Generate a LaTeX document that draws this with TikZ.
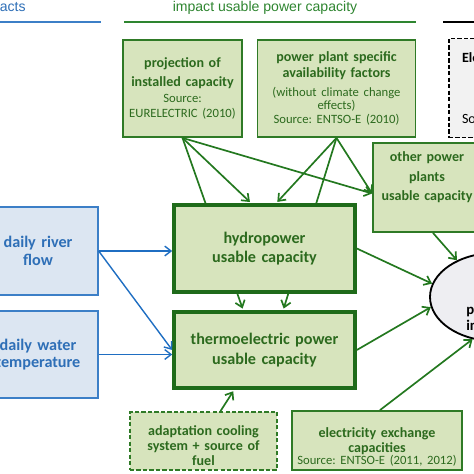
\documentclass[tikz,border=0pt]{standalone}
\usepackage{fontspec}
\setmainfont{Carlito}
\newfontfamily\hdrfont{Liberation Sans}
\usepackage{xcolor}
\usetikzlibrary{arrows.meta,shapes.geometric,backgrounds}
\frenchspacing
\definecolor{gnLine}{HTML}{2F7A26}
\definecolor{gnHeavy}{HTML}{1F6B1A}
\definecolor{gnFill}{HTML}{D7E4BD}
\definecolor{gnText}{HTML}{2C6A1E}
\definecolor{gnArrow}{HTML}{23781F}
\definecolor{gnHdr}{HTML}{2E8530}
\definecolor{blLine}{HTML}{3C7FC7}
\definecolor{blFill}{HTML}{DCE6F2}
\definecolor{blText}{HTML}{2E6FB7}
\definecolor{blArrow}{HTML}{1F6EC2}
\definecolor{kFill}{HTML}{F2F2F2}
\definecolor{elFill}{HTML}{EEEEF2}
\def\pxu{0.025cm}
\newcommand{\srcf}{\fontsize{9}{11}\selectfont}
% struts to move a text block down (top) or up (bottom) in its box
\newcommand{\topgap}[1]{\rule{0pt}{#1}}
\newcommand{\botgap}[1]{\rule[-#1]{0pt}{0pt}}
\tikzset{
  % Green input box
  gbox/.style={rectangle,draw=gnLine,fill=gnFill,line width=1.3pt,
    align=center,text=gnText,inner sep=0pt,
    font=\fontsize{10}{11}\selectfont},
  % Heavy green capacity box
  hbox/.style={gbox,draw=gnHeavy,line width=2.6pt,
    font=\bfseries\fontsize{11.5}{14}\selectfont},
  % Dashed green option box
  dgbox/.style={gbox,dash pattern=on 3pt off 1.6pt},
  % Blue climate box
  bbox/.style={rectangle,draw=blLine,fill=blFill,line width=1pt,
    align=center,text=blText,inner sep=0pt,
    font=\bfseries\fontsize{11.5}{12.5}\selectfont},
  % Black dashed box
  kbox/.style={rectangle,draw=black,fill=kFill,line width=1.3pt,
    dash pattern=on 3pt off 1.6pt,align=left,inner sep=0pt,
    font=\fontsize{10}{11}\selectfont},
  % Headers
  hdr/.style={font=\hdrfont\fontsize{10}{12}\selectfont,inner sep=0pt},
  % Arrows
  garr/.style={-{Straight Barb[length=4.5pt,width=7pt]},line width=1.2pt,draw=gnArrow},
  barr/.style={-{Straight Barb[length=4.5pt,width=7pt]},line width=1pt,draw=blArrow},
  hin/.style={shorten >=1.2pt},
}
\begin{document}
\begin{tikzpicture}[x=\pxu,y=-\pxu]
  \useasboundingbox (0,0) rectangle (474,474);
  \clip (0,0) rectangle (474,474);

  %% --- HEADERS ---
  \node[hdr,text=blText,anchor=east] (hdrclim) at (26,8) {climate change impacts};
  \node[hdr,text=gnHdr] (hdrcap) at (265,8) {impact usable power capacity};
  \draw[blLine,line width=1.2pt] (-5,22) -- (101,22);
  \draw[gnHdr,line width=1.2pt] (124,22) -- (416,22);
  \draw[black,line width=1.2pt] (443,22) -- (480,22);

  %% --- INPUT BOXES ---
  \node[gbox,minimum width=119*\pxu,minimum height=97*\pxu,text width=115*\pxu] (proj) at (182.5,88.5)
    {\textbf{projection of}\\[2.5pt]\textbf{installed capacity}\\[0.5pt]{\srcf Source:\\EURELECTRIC (2010)}};
  \node[gbox,minimum width=158*\pxu,minimum height=97*\pxu,text width=154*\pxu] (avail) at (336.5,88.5)
    {\textbf{power plant specific}\\\textbf{availability factors}\\[2.5pt]{\srcf (without climate change\\[-1.5pt]effects)\\[-1.5pt]Source: ENTSO-E (2010)}};
  \node[kbox,minimum width=112*\pxu,minimum height=99*\pxu,text width=86*\pxu] (demand) at (505,88)
    {\mbox{\textbf{Electricity demand}}\\[32pt]\mbox{Source:}};
  \node[gbox,minimum width=108*\pxu,minimum height=89*\pxu,text width=104*\pxu,
    font=\bfseries\fontsize{10}{14}\selectfont] (other) at (427,187.5)
    {other power\\plants\\usable capacity\botgap{16pt}};

  %% --- CLIMATE BOXES ---
  \node[bbox,minimum width=120*\pxu,minimum height=88*\pxu,text width=116*\pxu] (river) at (38,251)
    {daily river\\flow};
  \node[bbox,minimum width=120*\pxu,minimum height=87*\pxu,text width=116*\pxu] (temp) at (38,354.5)
    {daily water\\temperature};

  %% --- CAPACITY BOXES ---
  \node[hbox,minimum width=181*\pxu,minimum height=87*\pxu,text width=175*\pxu] (hydro) at (264.5,248.5)
    {hydropower\\usable capacity};
  \node[hbox,minimum width=181*\pxu,minimum height=76*\pxu,text width=175*\pxu] (thermo) at (264.5,350)
    {thermoelectric power\\usable capacity};

  %% --- BOTTOM BOXES ---
  \node[dgbox,minimum width=147*\pxu,minimum height=58*\pxu,text width=143*\pxu,
    font=\bfseries\fontsize{10}{10.6}\selectfont] (adapt) at (203.5,441)
    {\topgap{14pt}adaptation cooling\\system + source of\\fuel};
  \node[gbox,minimum width=170*\pxu,minimum height=59*\pxu,text width=166*\pxu] (exch) at (377,440.5)
    {\topgap{16pt}\textbf{electricity exchange}\\\textbf{capacities}\\[-3pt]{\srcf Source: ENTSO-E (2011, 2012)}};

  %% --- MARKET MODEL ---
  \node[ellipse,draw=black,fill=elFill,line width=1.3pt,minimum width=130*\pxu,minimum height=88*\pxu] (elli) at (495,297) {};
  \node[anchor=west,align=left,inner sep=0pt,font=\bfseries\fontsize{10.5}{12}\selectfont] (ellitext) at (466,318.5)
    {power market\\impacts};

  % Climate inputs
  \draw[barr] (river.east) -- (river.east -| hydro.west);
  \draw[barr] (river.east) -- (thermo.west);
  \draw[barr] (temp.east) -- (temp.east -| thermo.west);

  % Inputs to capacities
  \draw[garr,hin] (proj.south) -- ([xshift=79*\pxu]hydro.north west);
  \draw[garr] (proj.south) -- ([yshift=-6*\pxu]other.west);
  \draw[garr,hin] (avail.south) -- ([xshift=104*\pxu]hydro.north west);
  \draw[garr] (avail.south) -- ([yshift=-6*\pxu]other.west);
  \begin{scope}[on background layer]
    \draw[garr,hin] (proj.south) -- ([xshift=71*\pxu]thermo.north west);
    \draw[garr,hin] (avail.south) -- ([xshift=111*\pxu]thermo.north west);
  \end{scope}
  \draw[garr,hin] ([xshift=17*\pxu]adapt.north) -- ([xshift=62*\pxu]thermo.south west);

  % Capacities to the market model
  \draw[garr] ([xshift=6*\pxu]other.south) -- (elli.136);
  \draw[garr] (hydro.east) -- (elli.168);
  \draw[garr] (thermo.east) -- (elli.189);
  \draw[garr] ([xshift=3*\pxu]exch.north) -- (elli.242);
\end{tikzpicture}
\end{document}
